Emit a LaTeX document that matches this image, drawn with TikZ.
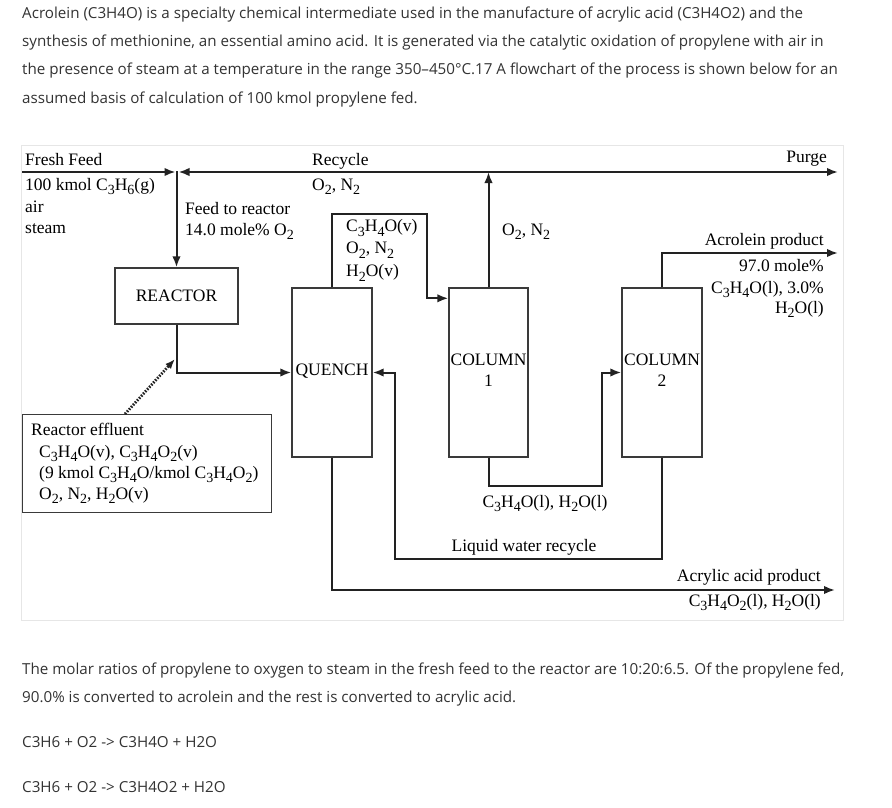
\documentclass[tikz,border=0pt]{standalone}
\usepackage{fontspec}
\setmainfont{Liberation Serif}
\newfontfamily\parfont[Ligatures=TeX]{Open Sans}
\usetikzlibrary{arrows.meta,calc}
\definecolor{txtgray}{HTML}{333333}
\definecolor{linedark}{HTML}{222222}
\definecolor{boxline}{HTML}{3A3A3A}
\definecolor{framegray}{HTML}{E6E6E6}
\newlength\reflen
\newcommand{\sbs}[1]{\raisebox{-4.6pt}{\fontsize{14}{14}\selectfont #1}}
\AtBeginDocument{%
  \settowidth\reflen{\parfont\fontsize{10}{12}\selectfont Acrolein (C3H4O) is a specialty chemical intermediate used in the manufacture of acrylic acid (C3H4O2) and the}%
  \pgfmathsetmacro\pszloc{10*781/\reflen}%
  \xdef\psz{\pszloc}}
\begin{document}
\begin{tikzpicture}[x=1pt,y=-1pt]
\tikzset{
  partext/.style={font=\parfont\fontsize{\psz}{\psz}\selectfont, anchor=base west, inner sep=0pt, text=txtgray},
  dlabel/.style={font=\fontsize{17.5}{20.5}\selectfont, inner sep=0pt, text=black},
  unitbox/.style={draw=boxline, line width=1.4pt, font=\fontsize{17.5}{20.5}\selectfont, inner sep=0pt, align=center},
  tip/.tip={Latex[length=11pt,width=8.5pt]},
  flow/.style={draw=linedark, line width=2pt, -tip},
}
\useasboundingbox (0,0) rectangle (892,808);
\fill[white] (0,0) rectangle (892,808);

% paragraph text
\node[partext] (p1) at (22,18.5) {Acrolein (C3H4O) is a specialty chemical intermediate used in the manufacture of acrylic acid (C3H4O2) and the};
\node[partext] (p2) at (22,46.5) {synthesis of methionine, an essential amino acid. It is generated via the catalytic oxidation of propylene with air in};
\node[partext] (p3) at (22,74.5) {the presence of steam at a temperature in the range 350–450°C.17 A flowchart of the process is shown below for an};
\node[partext] (p4) at (22,103) {assumed basis of calculation of 100 kmol propylene fed.};

\node[partext] (p5) at (22,674) {The molar ratios of propylene to oxygen to steam in the fresh feed to the reactor are 10:20:6.5. Of the propylene fed,};
\node[partext] (p6) at (22,702) {90.0\% is converted to acrolein and the rest is converted to acrylic acid.};
\node[partext] (p7) at (22,747) {C3H6 + O2 -\/> C3H4O + H2O};
\node[partext] (p8) at (22,792) {C3H6 + O2 -\/> C3H4O2 + H2O};

% frame of diagram
\draw[framegray, line width=1pt] (21,145) rectangle (843,620);

% units
\node[unitbox, minimum width=123pt, minimum height=56pt] (reactor) at (176.5,296) {REACTOR};
\node[unitbox, minimum width=80pt, minimum height=169pt] (quench) at (332,372.5) {};
\node[dlabel] (quenchlbl) at (332,371) {QUENCH};
\node[unitbox, minimum width=79pt, minimum height=169pt] (col1) at (488.5,372.5) {};
\node[dlabel, align=center] (col1lbl) at (488.5,370) {COLUMN\\1};
\node[unitbox, minimum width=80pt, minimum height=169pt] (col2) at (662,372.5) {};
\node[dlabel, align=center] (col2lbl) at (662,370) {COLUMN\\2};
\node[draw=boxline, line width=1.4pt, anchor=north west, minimum width=249pt, minimum height=98pt, inner sep=0pt] (eff) at (22,414) {};

% coordinates
\coordinate (ffstart) at (22,172);
\coordinate (mix) at (176.5,172);
\coordinate (purge) at (838,172);
\coordinate (k1) at (427,214);
\coordinate (c1in) at ($(col1.north west)+(0,11)$);
\coordinate (k2) at (602,486);
\coordinate (acro) at (838,253);
\coordinate (w1) at (395,559);
\coordinate (acry) at (835,590);
\coordinate (dotstart) at (125,414);
\coordinate (dotend) at (175,359);

% streams
\draw[flow] (ffstart) -- ($(mix)+(-1,0)$);
\draw[draw=linedark, line width=2pt, tip-tip] ($(mix)+(2,0)$) -- (purge);
\draw[flow] ($(mix)+(0,-1)$) -- (reactor.north);
\draw[flow] (reactor.south) |- (quench.west);
\draw[flow] (quench.north) |- (k1) |- (c1in);
\draw[flow] (col1.north) -- (col1.north |- mix);
\draw[flow] (col1.south) |- (k2) |- (col2.west);
\draw[flow] (col2.north) |- (acro);
\draw[flow] (col2.south) |- (w1) |- (quench.east);
\draw[flow] (quench.south) |- (acry);
\draw[draw=linedark, line width=2.8pt, dash pattern=on 1.6pt off 1.4pt, -{Latex[length=10pt,width=7.5pt]}] (dotstart) -- (dotend);

% labels
\node[dlabel, anchor=base west] (lff) at (25,165) {Fresh Feed};
\node[dlabel, anchor=base west] (lff2) at (25,190) {100 kmol C\sbs{3}H\sbs{6}(g)};
\node[dlabel, anchor=base west] (lff3) at (25,212) {air};
\node[dlabel, anchor=base west] (lff4) at (25,233) {steam};
\node[dlabel, anchor=base west] (lfr1) at (185,214) {Feed to reactor};
\node[dlabel, anchor=base west] (lfr2) at (185,235) {14.0 mole\% O\sbs{2}};
\node[dlabel, anchor=base west] (lrec) at (312,165) {Recycle};
\node[dlabel, anchor=base west] (lrec2) at (312,190) {O\sbs{2}, N\sbs{2}};
\node[dlabel, anchor=base east] (lpurge) at (827,162) {Purge};
\node[dlabel, anchor=base west] (lq1) at (346,231.5) {C\sbs{3}H\sbs{4}O(v)};
\node[dlabel, anchor=base west] (lq2) at (346,253.5) {O\sbs{2}, N\sbs{2}};
\node[dlabel, anchor=base west] (lq3) at (346,276.5) {H\sbs{2}O(v)};
\node[dlabel, anchor=base west] (lc1) at (502,235) {O\sbs{2}, N\sbs{2}};
\node[dlabel, anchor=base east] (la1) at (824,245) {Acrolein product};
\node[dlabel, anchor=base east] (la2) at (824,271) {97.0 mole\%};
\node[dlabel, anchor=base east] (la3) at (824,293) {C\sbs{3}H\sbs{4}O(l), 3.0\%};
\node[dlabel, anchor=base east] (la4) at (824,313) {H\sbs{2}O(l)};
\node[dlabel, anchor=base] (lb) at (545,507) {C\sbs{3}H\sbs{4}O(l), H\sbs{2}O(l)};
\node[dlabel, anchor=base] (lw) at (524,551) {Liquid water recycle};
\node[dlabel, anchor=base east] (lac1) at (821,581) {Acrylic acid product};
\node[dlabel, anchor=base east] (lac2) at (821,606) {C\sbs{3}H\sbs{4}O\sbs{2}(l), H\sbs{2}O(l)};
\node[dlabel, anchor=base west] (le1) at (31,435) {Reactor effluent};
\node[dlabel, anchor=base west] (le2) at (39,457) {C\sbs{3}H\sbs{4}O(v), C\sbs{3}H\sbs{4}O\sbs{2}(v)};
\node[dlabel, anchor=base west] (le3) at (39,478) {(9 kmol C\sbs{3}H\sbs{4}O/kmol C\sbs{3}H\sbs{4}O\sbs{2})};
\node[dlabel, anchor=base west] (le4) at (39,499) {O\sbs{2}, N\sbs{2}, H\sbs{2}O(v)};
\end{tikzpicture}
\end{document}
